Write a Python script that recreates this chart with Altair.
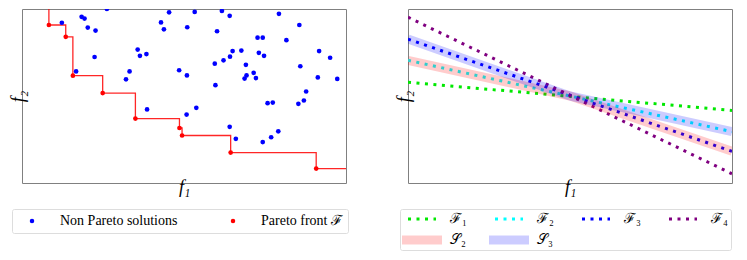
import altair as alt
import pandas as pd

FONT = "Liberation Serif"
X_MAX = 10.0
Y_MAX = 10.0

# ---------------- left panel data ----------------
non_x = [1.23, 1.84, 1.93, 2.03, 2.27, 2.62, 2.24, 1.67, 3.57, 3.64, 3.84, 3.32, 3.21, 3.86,
         4.54, 4.29, 4.38, 5.10, 5.33, 4.85, 5.09, 5.08, 5.38, 6.02, 6.17, 6.41, 5.95, 6.22,
         6.42, 6.50, 6.77, 5.97, 6.91, 6.93, 6.87, 7.15, 7.22, 7.27, 7.43, 7.31, 7.47, 8.16,
         7.93, 8.56, 8.59, 9.17, 9.51, 9.13, 9.73, 8.77, 8.70, 8.53, 7.58, 7.74, 6.41, 6.60,
         7.43, 7.69, 7.91]
non_y = [9.21, 9.55, 9.45, 8.93, 8.76, 10.0, 7.24, 6.41, 7.67, 7.31, 7.41, 6.41, 5.96, 4.23,
         9.81, 9.23, 8.83, 8.95, 9.83, 6.48, 6.18, 3.93, 4.32, 8.72, 9.89, 9.61, 6.86, 7.05,
         7.26, 7.58, 7.61, 5.62, 6.79, 6.18, 6.00, 6.33, 6.03, 8.35, 8.35, 7.48, 7.31, 8.21,
         9.72, 9.08, 6.71, 7.58, 7.20, 6.07, 5.98, 5.26, 4.74, 4.55, 4.59, 4.62, 3.23, 2.54,
         2.35, 2.63, 2.97]
par_x = [0.83, 1.35, 1.57, 2.49, 3.50, 4.86, 4.94, 6.44, 9.08]
par_y = [9.08, 8.40, 6.17, 5.17, 3.70, 3.16, 2.73, 1.75, 0.83]
left_kinds = ["Non Pareto solutions", "Pareto front ℱ"]
left_colors = ["#0000ff", "#ff0000"]

# ---------------- right panel data ----------------
line_names = ["ℱ₁", "ℱ₂", "ℱ₃", "ℱ₄"]
line_colors = ["#00e800", "#00ffff", "#0000ff", "#800080"]
line_x = [0.0, 10.0]
line_y_start = [5.79, 7.05, 8.27, 9.53]
line_y_end = [4.17, 2.95, 1.82, 0.53]

band_names = ["𝒮₂", "𝒮₃"]
band_colors = ["#ff0000", "#0000ff"]
band_x = [0.0, 5.0, 10.0]
band_y = [[7.05, 5.0, 1.82], [8.27, 5.0, 2.95]]

# ---------------- build tables ----------------
pts = pd.DataFrame({
    "x": non_x + par_x,
    "y": non_y + par_y,
    "kind": [left_kinds[0]] * len(non_x) + [left_kinds[1]] * len(par_x),
})
front = pd.DataFrame({
    "x": [par_x[0]] + par_x + [X_MAX],
    "y": [Y_MAX] + par_y + [par_y[-1]],
})
front["i"] = range(len(front))

lrows = []
for n, y0, y1 in zip(line_names, line_y_start, line_y_end):
    lrows.append({"name": n, "x": line_x[0], "y": y0})
    lrows.append({"name": n, "x": line_x[1], "y": y1})
lines = pd.DataFrame(lrows)

brows = []
for n, ys_ in zip(band_names, band_y):
    for s in range(len(band_x) - 1):
        for k in (s, s + 1):
            brows.append({"name": n, "seg": f"{n}-{s}", "x": band_x[k], "y": ys_[k]})
bands = pd.DataFrame(brows)

W, H = 324, 174


def ax(title):
    return alt.Axis(title=title, labels=False, ticks=False, domain=False, grid=False,
                    titleFont=FONT, titleFontStyle="italic", titleFontWeight="normal",
                    titleFontSize=18, titlePadding=-5, titleColor="#000")


xs = alt.Scale(domain=[0, X_MAX], nice=False, zero=False)
ys = alt.Scale(domain=[0, Y_MAX], nice=False, zero=False)

X = alt.X("x:Q", scale=xs, axis=ax("f₁"))
Y = alt.Y("y:Q", scale=ys, axis=ax("f₂"))

front_line = alt.Chart(front).mark_line(
    interpolate="step-after", color="#ff0000", strokeWidth=1.3, opacity=0.85, clip=True
).encode(x=X, y=Y, order="i:Q")

points = alt.Chart(pts).mark_circle(size=22, opacity=1, clip=True).encode(
    x=X, y=Y,
    color=alt.Color("kind:N", scale=alt.Scale(domain=left_kinds, range=left_colors),
                    legend=alt.Legend(
                        title=None, orient="none", legendX=-10, legendY=200,
                        direction="horizontal", columns=2, columnPadding=40,
                        symbolType="circle", symbolSize=20, symbolOffset=8,
                        labelOffset=21, labelFont=FONT, labelFontSize=14,
                        labelColor="#000", padding=5, strokeColor="#dddddd",
                        fillColor="#ffffff", cornerRadius=2)),
)

left = alt.layer(front_line, points).properties(width=W, height=H)

all_names = line_names + band_names
all_colors = line_colors + band_colors
band_test = "(" + " || ".join(f"datum.value == '{b}'" for b in band_names) + ")"
band_fill = "'transparent'"
for b, c in zip(band_names, band_colors):
    band_fill = f"datum.value == '{b}' ? '{c}' : {band_fill}"

right_legend = alt.Legend(
    title=None, orient="none", legendX=-8, legendY=200,
    direction="horizontal", columns=4, columnPadding=22, rowPadding=7,
    gridAlign="all",
    symbolType=alt.ExprRef(
        expr=f"{band_test} ? 'M-4,-0.9H4V0.9H-4Z' : 'M-2.8,0H2.8'"),
    symbolSize=100, symbolOffset=12,
    labelOffset=21, labelFont=FONT, labelFontSize=14,
    labelColor="#000", padding=3, strokeColor="#dddddd", fillColor="#ffffff",
    cornerRadius=2,
    symbolFillColor=alt.ExprRef(expr=band_fill),
    symbolDash=alt.ExprRef(expr=f"{band_test} ? [1, 0] : [3, 5.5]"),
    symbolStrokeWidth=alt.ExprRef(expr=f"{band_test} ? 0 : 3"),
    symbolOpacity=alt.ExprRef(expr=f"{band_test} ? 0.2 : 1"),
)
rcolor = alt.Color("name:N", scale=alt.Scale(domain=all_names, range=all_colors),
                   legend=right_legend)

rlines = alt.Chart(lines).mark_line(
    strokeWidth=3, strokeDash=[3, 5.5], strokeCap="butt", clip=True
).encode(x=X, y=Y, color=rcolor)

rbands = alt.Chart(bands).mark_line(
    strokeWidth=9, strokeOpacity=0.2, strokeCap="butt", clip=True
).encode(x=X, y=Y, color=rcolor, detail="seg:N")

right = alt.layer(rlines, rbands).properties(width=W, height=H)

chart = alt.hconcat(left, right, spacing=45).resolve_scale(color="independent").properties(
    padding=0
).configure_view(stroke="#808080", strokeWidth=1)

chart.save("out.html", embed_options={"renderer": "svg", "actions": False})
